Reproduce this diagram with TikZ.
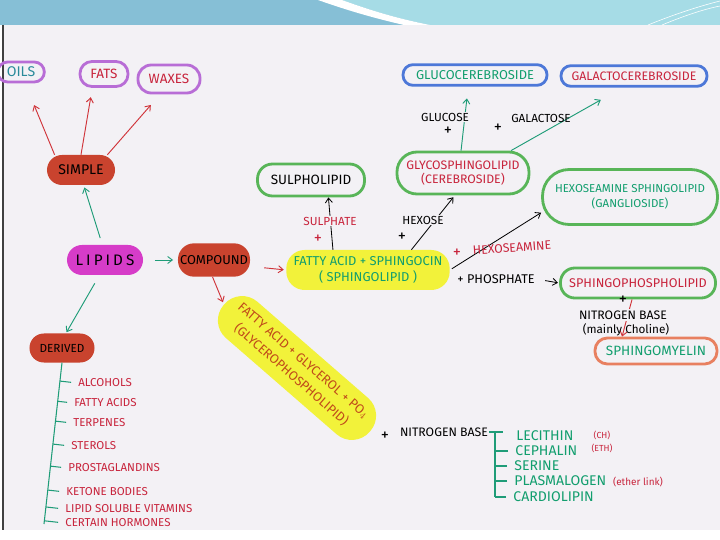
\documentclass[tikz,border=0pt]{standalone}
\usepackage{fontspec}
\setmainfont{Fira Sans}
\usetikzlibrary{arrows.meta,calc}

\definecolor{bannerA}{HTML}{86BFD6}
\definecolor{bannerB}{HTML}{A6DCE6}
\definecolor{paper}{HTML}{F3F1F5}
\definecolor{ringpurple}{HTML}{B86DD6}
\definecolor{ringblue}{HTML}{4D78D8}
\definecolor{ringgreen}{HTML}{58B558}
\definecolor{ringorange}{HTML}{E88060}
\definecolor{blobred}{HTML}{C9432E}
\definecolor{blobpink}{HTML}{D63CC8}
\definecolor{blobyellow}{HTML}{F2F23A}
\definecolor{tred}{HTML}{C8243C}
\definecolor{tgreen}{HTML}{129E6E}
\definecolor{toils}{HTML}{2A8A9A}
\definecolor{tbrown}{HTML}{C04A1A}
\definecolor{arrred}{HTML}{D0343A}
\definecolor{arrgreen}{HTML}{1F9C78}

\newcommand{\fsz}[1]{\fontsize{#1}{#1}\selectfont}

\tikzset{
  ring/.style={draw=#1, line width=2.4pt, rectangle, inner sep=1pt},
  blob/.style={fill=#1, rectangle, inner sep=1pt},
  lbl/.style={inner sep=1pt, font=\fsz{10}},
  plus/.style={inner sep=0pt, font=\fsz{14}},
  redarrow/.style={->, draw=arrred, line width=0.8pt},
  greenarrow/.style={->, draw=arrgreen, line width=0.8pt},
  blackarrow/.style={->, draw=black, line width=0.7pt},
  greenline/.style={draw=arrgreen, line width=0.9pt},
}

\begin{document}
\begin{tikzpicture}[x=0.03cm, y=-0.03cm, >={Straight Barb[length=4pt,width=6pt]}]
  \useasboundingbox (0,0) rectangle (720,540);
  % slide and paper
  \fill[white] (0,0) rectangle (720,540);
  \fill[paper] (4,25) rectangle (720,530);
  \fill[bannerA] (0,0) rectangle (720,25);
  \fill[bannerB] (342,0) .. controls (375,12) and (400,19) .. (430,25) -- (720,25) -- (720,0) -- cycle;
  \fill[white] (318,0) .. controls (352,12) and (378,19) .. (404,25) -- (430,25) .. controls (400,19) and (375,12) .. (342,0) -- cycle;
  \draw[white, line width=0.5pt] (648,25) .. controls (675,14) and (700,6) .. (720,1);
  \draw[white, line width=0.5pt] (662,25) .. controls (686,15) and (705,9) .. (720,6);
  \draw[black!75, line width=1.2pt] (3,25) -- (3,530);

  % simple lipids
  \node (oils) [ring=ringpurple, rounded corners=0.3cm, minimum width=1.4cm, minimum height=0.6cm, lbl, font=\fsz{12}, text=toils] at (21,72) {OILS};
  \node (fats) [ring=ringpurple, rounded corners=0.36cm, minimum width=1.44cm, minimum height=0.75cm, lbl, font=\fsz{11.5}, text=tred] at (104,74) {FATS};
  \node (waxes) [ring=ringpurple, rounded corners=0.4cm, minimum width=1.86cm, minimum height=0.84cm, lbl, font=\fsz{11.5}, text=tred] at (169,79) {WAXES};
  \node (simple) [blob=blobred, rounded corners=0.45cm, minimum width=2.04cm, minimum height=0.9cm, lbl, font=\fsz{12}] at (81,170) {SIMPLE};
  \node (lipids) [blob=blobpink, rounded corners=0.45cm, minimum width=2.28cm, minimum height=0.9cm, lbl, font=\fsz{13}\addfontfeature{LetterSpace=20}] at (105,260) {LIPIDS};
  \node (compound) [blob=blobred, rounded corners=0.48cm, minimum width=2.16cm, minimum height=1cm, lbl, font=\fsz{11}] at (214,260) {COMPOUND};
  \node (derived) [blob=blobred, rounded corners=0.43cm, minimum width=1.95cm, minimum height=0.87cm, lbl, font=\fsz{10}] at (62,348) {DERIVED};

  % compound lipids
  \node (sphingo) [blob=blobyellow, rounded corners=0.55cm, minimum width=4.9cm, minimum height=1.2cm, lbl, font=\fsz{11}, text=tgreen, align=center] at (368,270) {FATTY ACID + SPHINGOCIN\\[2pt]( SPHINGOLIPID )};
  \node (glycero) [blob=blobyellow, rounded corners=0.7cm, minimum width=5.8cm, minimum height=1.44cm, lbl, font=\fsz{11}, text=tbrown, align=center, rotate=-41] at (297,368) {FATTY ACID + GLYCEROL + PO$_4$\\[5pt](GLYCEROPHOSPHOLIPID)};
  \node (sulpho) [ring=ringgreen, rounded corners=0.45cm, minimum width=3.21cm, minimum height=0.96cm, lbl, font=\fsz{11.5}] at (311,180) {SULPHOLIPID};
  \node (glyco) [ring=ringgreen, rounded corners=0.6cm, minimum width=3.96cm, minimum height=1.26cm, lbl, font=\fsz{10.5}, text=tred, align=center] at (463,173) {GLYCOSPHINGOLIPID\\[2pt](CEREBROSIDE)};
  \node (ganglio) [ring=ringgreen, rounded corners=0.8cm, minimum width=5.25cm, minimum height=1.65cm, lbl, font=\fsz{9.8}, text=tgreen, align=center] at (630,197) {HEXOSEAMINE SPHINGOLIPID\\[3pt](GANGLIOSIDE)};
  \node (sphpl) [ring=ringgreen, rounded corners=0.43cm, minimum width=4.65cm, minimum height=0.9cm, lbl, font=\fsz{10.8}, text=tred] at (638,283) {SPHINGOPHOSPHOLIPID};
  \node (sphmy) [ring=ringorange, rounded corners=0.37cm, minimum width=3.66cm, minimum height=0.78cm, lbl, font=\fsz{11.5}, text=tgreen] at (656,351) {SPHINGOMYELIN};
  \node (gluco) [ring=ringblue, rounded corners=0.3cm, minimum width=4.32cm, minimum height=0.62cm, lbl, font=\fsz{11}, text=tgreen] at (475,75) {GLUCOCEREBROSIDE};
  \node (galacto) [ring=ringblue, rounded corners=0.3cm, minimum width=4.38cm, minimum height=0.62cm, lbl, font=\fsz{10.5}, text=tred] at (634,76) {GALACTOCEREBROSIDE};
  \node (phos) [lbl, font=\fsz{10.8}] at (496,279) {+ PHOSPHATE};

  % arrows
  \draw[redarrow, shorten >=20pt] (simple.150) -- (oils.-70);
  \draw[redarrow, shorten >=8pt] (simple.north) -- (fats.-130);
  \draw[redarrow, shorten >=12pt] (simple.30) -- (waxes.-120);
  \draw[greenarrow, shorten <=6pt, shorten >=2pt] (lipids.100) -- (simple.-80);
  \draw[greenarrow, shorten <=10pt, shorten >=4pt] (lipids.east) -- (compound.west);
  \draw[greenarrow, shorten <=8pt, shorten >=1pt] (lipids.-110) -- (derived.75);
  \draw[redarrow, shorten <=12pt, shorten >=2pt] (compound.-10) -- (sphingo.west);
  \draw[redarrow, shorten >=2pt] (compound.-95) -- (glycero.west);
  \draw[blackarrow] (sphingo.150) -- (sulpho.-45);
  \draw[blackarrow, shorten >=2pt] (sphingo.25) -- (glyco.-110);
  \draw[blackarrow, shorten <=2pt] (sphingo.east) -- (ganglio.-170);
  \draw[blackarrow, shorten <=8pt, shorten >=1pt] (phos.east) -- (sphpl.west);
  \draw[redarrow] (sphpl.-110) -- (sphmy.157);
  \draw[greenarrow, shorten >=10pt] (glyco.95) -- (gluco.-120);
  \draw[greenarrow, shorten >=21pt] (glyco.25) -- (galacto.-135);

  % labels on the arrows
  \node (glucose) [lbl, fill=paper] at (445,117) {GLUCOSE};
  \node (pglucose) [plus] at (448,131) {+};
  \node (pgalact) [plus] at (498,128) {+};
  \node (galactose) [lbl] at (541,118) {GALACTOSE};
  \node (sulphate) [lbl, text=tred, fill=paper] at (330,221) {SULPHATE};
  \node (psulph) [plus, text=tred] at (318,239) {+};
  \node (hexose) [lbl, fill=paper] at (423,220) {HEXOSE};
  \node (phexose) [plus] at (402,237) {+};
  \node (phexam) [plus, text=tred] at (457,253) {+};
  \node (hexam) [lbl, font=\fsz{10.5}, text=tred, rotate=4] at (512,248) {HEXOSEAMINE};
  \node (pnitro) [plus] at (623,300) {+};
  \node (nitro) [lbl, font=\fsz{10.5}, fill=paper] at (623,315) {NITROGEN BASE};
  \node (choline) [lbl] at (626,330) {(mainly Choline)};

  % derived lipids
  \coordinate (spinebot) at (44,524);
  \draw[greenline] (derived.south) -- (spinebot);
  \foreach \nm/\txt/\xx/\yy in {alc/ALCOHOLS/77/383, fac/FATTY ACIDS/73/403, ter/TERPENES/72/423,
      ste/STEROLS/70/446, pro/PROSTAGLANDINS/67/468, ket/KETONE BODIES/65/492,
      vit/LIPID SOLUBLE VITAMINS/64/509, hor/CERTAIN HORMONES/64/523} {
    \node (\nm) [lbl, font=\fsz{9.8}, text=tred, anchor=west] at (\xx,\yy) {\txt};
    \draw[greenline, shorten <=5pt] (\nm.west) -- ($(derived.south)!(\nm.west)!(spinebot)$);
  }

  % glycerophospholipids
  \node (pbase) [plus] at (385,436) {+};
  \node (nbase) [lbl, font=\fsz{10.5}] at (444,432) {NITROGEN BASE};
  \coordinate (brbar) at (503,432);
  \coordinate (brtop) at (495,432);
  \coordinate (brbot) at (495,497);
  \draw[greenline] (nbase.east) -- (brbar);
  \draw[greenline] (brtop) -- (brbot);
  \foreach \nm/\txt/\xx/\yy in {lec/LECITHIN/515/436, cep/CEPHALIN/514/451, ser/SERINE/513/466,
      pla/PLASMALOGEN/513/481, car/CARDIOLIPIN/512/497} {
    \node (\nm) [lbl, text=tgreen, anchor=west, font=\fsz{12}] at (\xx,\yy) {\txt};
  }
  \foreach \nm in {cep, ser, pla, car} {
    \draw[greenline, shorten <=5pt] (\nm.west) -- (\nm.west -| brtop);
  }
  \node (ch) [lbl, text=tred, font=\fsz{7.5}] at (602,435) {(CH)};
  \node (eth) [lbl, text=tred, font=\fsz{7.5}] at (602,448) {(ETH)};
  \node (ether) [lbl, text=tred, font=\fsz{8.5}] at (638,482) {(ether link)};
\end{tikzpicture}
\end{document}
